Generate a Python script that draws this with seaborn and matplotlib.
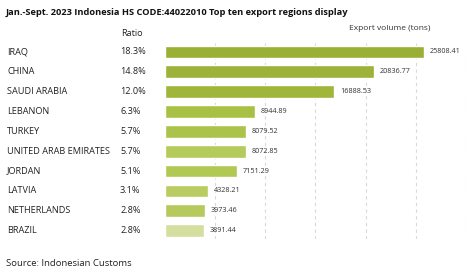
import matplotlib
matplotlib.use("Agg")
import matplotlib.pyplot as plt
import matplotlib.transforms as mtransforms
import seaborn as sns
import pandas as pd

sns.set_theme(style="white")
plt.rcParams['font.family'] = ['Open Sans', 'DejaVu Sans']

countries = ["IRAQ", "CHINA", "SAUDI ARABIA", "LEBANON", "TURKEY",
             "UNITED ARAB EMIRATES", "JORDAN", "LATVIA", "NETHERLANDS", "BRAZIL"]
ratios = ["18.3%", "14.8%", "12.0%", "6.3%", "5.7%", "5.7%", "5.1%", "3.1%", "2.8%", "2.8%"]
volumes = [25808.41, 20836.77, 16888.53, 8944.89, 8079.52,
           8072.85, 7151.29, 4328.21, 3973.46, 3891.44]
colors = ["#9aaf36", "#9cb238", "#a0b63b", "#a8c145", "#abc34a",
          "#b4cb5c", "#b1c852", "#b9cc62", "#b6c95c", "#d4df9f"]

df = pd.DataFrame({"country": countries, "volume": volumes})

fig = plt.figure(figsize=(4.74, 2.73), dpi=100)
ax = fig.add_axes([0.348, 0.1245, 0.635, 0.718])

sns.barplot(data=df, x="volume", y="country", hue="country", palette=colors,
            legend=False, ax=ax, width=0.64, saturation=1, orient="h")

ax.set_xlim(0, 30000)
ax.set_ylim(9.42, -0.45)
ax.set_xticks([5000, 10000, 15000, 20000, 25000, 30000])
ax.xaxis.grid(True, linestyle=(0, (3, 3)), color="#d9d9d9", linewidth=0.8)
ax.set_axisbelow(True)
ax.set_xticklabels([])
ax.set_yticklabels([])
ax.tick_params(length=0)
ax.set_xlabel("")
ax.set_ylabel("")
for s in ax.spines.values():
    s.set_visible(False)

# value labels
for i, v in enumerate(volumes):
    ax.annotate(f"{v:.2f}", (v, i), xytext=(4, 0), textcoords="offset points",
                va="center", ha="left", fontsize=5.2, color="#333333")

# country names and ratios at left
trans = mtransforms.blended_transform_factory(fig.transFigure, ax.transData)
for i, (c, r) in enumerate(zip(countries, ratios)):
    ax.text(7 / 474, i, c, transform=trans, va="center", ha="left",
            fontsize=6.6, color="#222222")
    ax.text(120 / 474, i, r, transform=trans, va="center", ha="left",
            fontsize=6.6, color="#222222")

fig.text(6 / 474, 1 - 12 / 273, "Jan.-Sept. 2023 Indonesia HS CODE:44022010 Top ten export regions display",
         fontsize=6.7, fontweight="bold", color="#111111", va="center", ha="left")
fig.text(121 / 474, 1 - 33 / 273, "Ratio", fontsize=6.6, color="#222222", va="center", ha="left")
fig.text(390 / 474, 1 - 28 / 273, "Export volume (tons)", fontsize=6.0, color="#333333",
         va="center", ha="center")
fig.text(6 / 474, 1 - 263 / 273, "Source: Indonesian Customs", fontsize=6.8,
         color="#222222", va="center", ha="left")

fig.savefig("out.png", dpi=100)
